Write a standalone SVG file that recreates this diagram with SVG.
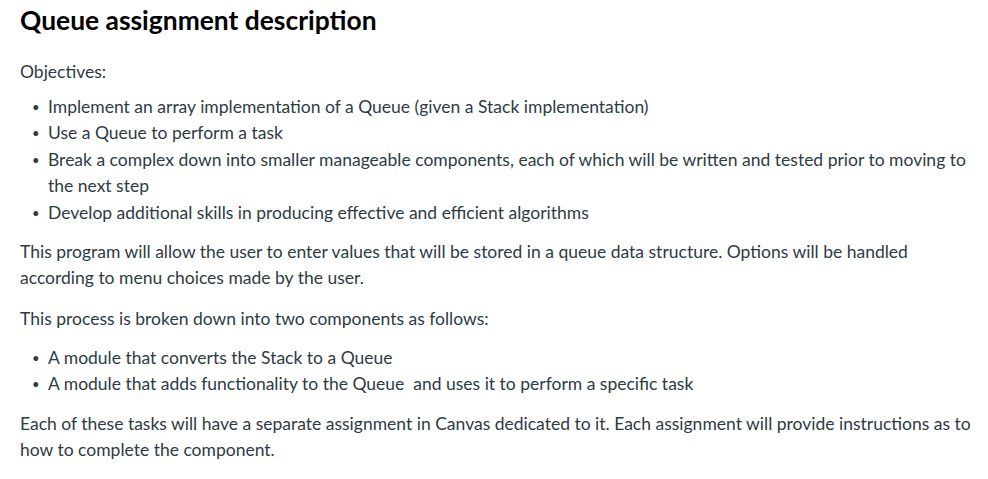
<svg xmlns="http://www.w3.org/2000/svg" width="988" height="479" viewBox="0 0 988 479">
<style>
text{font-family:Lato,"Open Sans",sans-serif;fill:#2d3b45;font-size:17.5px}
.h{font-size:26.4px;font-weight:bold;fill:#000}
.d{font-size:13px}
</style>
<rect width="988" height="479" fill="#fff"/>
<text class="h" x="20" y="30">Queue assignment description</text>
<text x="20" y="78">Objectives:</text>
<g>
<text class="d" x="32" y="112">•</text><text x="48" y="113">Implement an array implementation of a Queue (given a Stack implementation)</text>
<text class="d" x="32" y="138">•</text><text x="48" y="139">Use a Queue to perform a task</text>
<text class="d" x="32" y="165">•</text><text x="48" y="166">Break a complex down into smaller manageable components, each of which will be written and tested prior to moving to</text>
<text x="48" y="192">the next step</text>
<text class="d" x="32" y="218">•</text><text x="48" y="219">Develop additional skills in producing effective and efficient algorithms</text>
</g>
<text x="20" y="258">This program will allow the user to enter values that will be stored in a queue data structure. Options will be handled</text>
<text x="20" y="284">according to menu choices made by the user.</text>
<text x="20" y="325">This process is broken down into two components as follows:</text>
<text class="d" x="32" y="363">•</text><text x="48" y="364">A module that converts the Stack to a Queue</text>
<text class="d" x="32" y="389">•</text><text x="48" y="390" xml:space="preserve">A module that adds functionality to the Queue  and uses it to perform a specific task</text>
<text x="20" y="430">Each of these tasks will have a separate assignment in Canvas dedicated to it. Each assignment will provide instructions as to</text>
<text x="20" y="456">how to complete the component.</text>
</svg>
